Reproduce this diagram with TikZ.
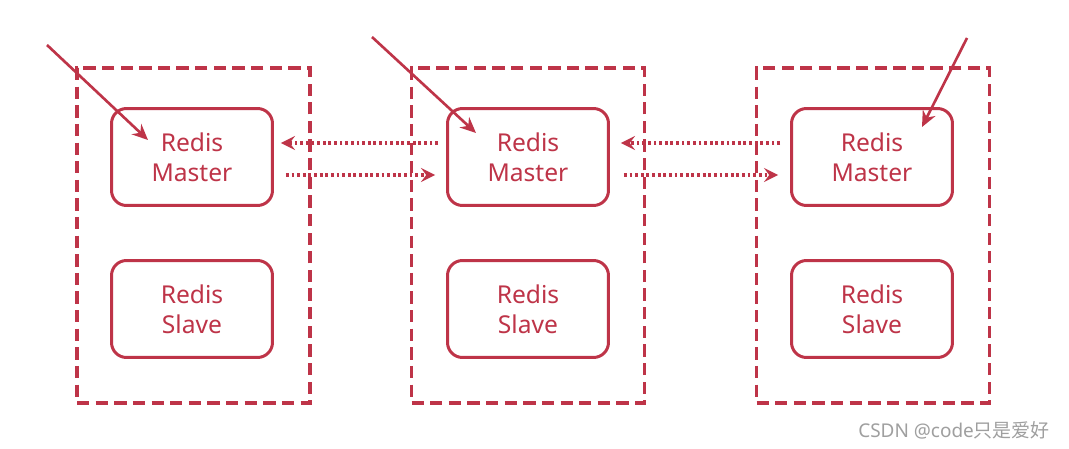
\documentclass[tikz,border=0pt]{standalone}
\usepackage{fontspec}
\setmainfont{Noto Sans}
\newfontfamily\cjkfont{Noto Sans CJK SC}
\usetikzlibrary{arrows.meta}
\definecolor{redisred}{RGB}{190,52,72}
\tikzset{
  cluster/.style={draw=redisred, line width=2.1pt, dash pattern=on 7pt off 3.6pt,
    minimum width=4.66cm, minimum height=6.7cm, inner sep=0pt},
  redisbox/.style={draw=redisred, line width=1.7pt, rounded corners=0.3cm,
    minimum width=3.22cm, minimum height=1.94cm, text=redisred, align=center,
    font=\fontsize{14}{17}\selectfont},
  inarrow/.style={draw=redisred, line width=1.5pt, -{Stealth[length=9pt,width=8pt,inset=3pt]}},
  sync/.style={draw=redisred, line width=1.8pt, dash pattern=on 1.6pt off 1.6pt,
    -{Stealth[length=8pt,width=8pt,inset=3pt]}}
}
\begin{document}
\begin{tikzpicture}[x=0.02cm, y=-0.02cm]
\useasboundingbox[fill=white] (0,0) rectangle (1069,449);
%%%%% clusters %%%%%
\foreach \i/\cx/\bx in {1/193.5/192, 2/528/528, 3/873/872}{
  \node[cluster] (c\i) at (\cx,235.5) {};
  \node[redisbox] (m\i) at (\bx,157) {Redis\\Master};
  \node[redisbox] (s\i) at (\bx,309) {Redis\\Slave};
}
%%%%% clients %%%%%
\coordinate (in1) at (47,45);   \coordinate (to1) at (148,140);
\coordinate (in2) at (372,37);  \coordinate (to2) at (476,133);
\coordinate (in3) at (967,38);  \coordinate (to3) at (922,127);
\foreach \i in {1,2,3}{
  \draw[inarrow] (in\i) -- (to\i);
}
%%%%% replication %%%%%
\draw[sync] ([xshift=-0.16cm,yshift=0.28cm]m2.west) -- ([xshift=0.14cm,yshift=0.28cm]m1.east);
\draw[sync] ([xshift=0.24cm,yshift=-0.36cm]m1.east) -- ([xshift=-0.22cm,yshift=-0.36cm]m2.west);
\draw[sync] ([xshift=-0.2cm,yshift=0.28cm]m3.west) -- ([xshift=0.22cm,yshift=0.28cm]m2.east);
\draw[sync] ([xshift=0.28cm,yshift=-0.36cm]m2.east) -- ([xshift=-0.24cm,yshift=-0.36cm]m3.west);
%%%%% watermark %%%%%
\node[text=gray!75, font=\fontsize{10.8}{12}\selectfont, anchor=east] (mark) at (1056,430)
  {CSDN @code{\cjkfont 只是爱好}};
\end{tikzpicture}
\end{document}
